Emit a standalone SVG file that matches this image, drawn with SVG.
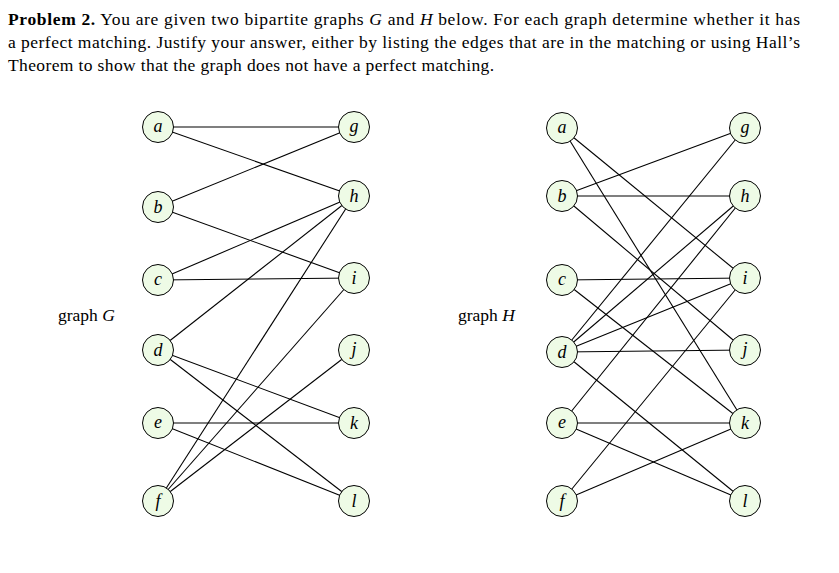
<svg xmlns="http://www.w3.org/2000/svg" width="839" height="573" viewBox="0 0 839 573">
<style>
.t{font-family:"Liberation Serif",serif;font-size:17.5px;fill:#000}
.n circle{fill:#eefbe6;stroke:#000;stroke-width:1}
.n text{font-family:"Liberation Serif",serif;font-style:italic;font-size:18px;text-anchor:middle}
.e line{stroke:#000;stroke-width:1.1}
</style>
<rect width="839" height="573" fill="#fff"/>
<text class="t" x="8" y="25" textLength="792" lengthAdjust="spacing"><tspan font-weight="bold">Problem 2.</tspan> You are given two bipartite graphs <tspan font-style="italic">G</tspan> and <tspan font-style="italic">H</tspan> below. For each graph determine whether it has</text>
<text class="t" x="8" y="48" textLength="792" lengthAdjust="spacing">a perfect matching. Justify your answer, either by listing the edges that are in the matching or using Hall’s</text>
<text class="t" x="8" y="71" textLength="486" lengthAdjust="spacing">Theorem to show that the graph does not have a perfect matching.</text>
<text class="t" x="58" y="321" font-size="19">graph <tspan font-style="italic">G</tspan></text>
<text class="t" x="458" y="321" font-size="19">graph <tspan font-style="italic">H</tspan></text>
<g class="e" id="edgesG">
<line x1="158" y1="127" x2="354" y2="127"/><line x1="158" y1="127" x2="354" y2="196"/>
<line x1="158" y1="207" x2="354" y2="127"/><line x1="158" y1="207" x2="354" y2="278"/>
<line x1="158" y1="280" x2="354" y2="196"/><line x1="158" y1="280" x2="354" y2="278"/>
<line x1="158" y1="350" x2="354" y2="196"/><line x1="158" y1="350" x2="354" y2="423"/><line x1="158" y1="350" x2="354" y2="501"/>
<line x1="158" y1="423" x2="354" y2="423"/><line x1="158" y1="423" x2="354" y2="501"/>
<line x1="158" y1="501" x2="354" y2="196"/><line x1="158" y1="501" x2="354" y2="278"/><line x1="158" y1="501" x2="354" y2="350"/>
</g>
<g class="e" id="edgesH">
<line x1="562" y1="128" x2="745" y2="278"/><line x1="562" y1="128" x2="745" y2="423"/>
<line x1="562" y1="196" x2="745" y2="128"/><line x1="562" y1="196" x2="745" y2="196"/><line x1="562" y1="196" x2="745" y2="350"/>
<line x1="562" y1="280" x2="745" y2="278"/><line x1="562" y1="280" x2="745" y2="423"/>
<line x1="562" y1="352" x2="745" y2="128"/><line x1="562" y1="352" x2="745" y2="196"/><line x1="562" y1="352" x2="745" y2="278"/><line x1="562" y1="352" x2="745" y2="350"/><line x1="562" y1="352" x2="745" y2="501"/>
<line x1="562" y1="423" x2="745" y2="196"/><line x1="562" y1="423" x2="745" y2="423"/><line x1="562" y1="423" x2="745" y2="501"/>
<line x1="562" y1="501" x2="745" y2="278"/><line x1="562" y1="501" x2="745" y2="423"/>
</g>
<g class="n" id="G-a"><circle cx="158" cy="127" r="15.5"/><text x="158" y="132">a</text></g>
<g class="n" id="G-b"><circle cx="158" cy="207" r="15.5"/><text x="158" y="213">b</text></g>
<g class="n" id="G-c"><circle cx="158" cy="280" r="15.5"/><text x="158" y="285">c</text></g>
<g class="n" id="G-d"><circle cx="158" cy="350" r="15.5"/><text x="158" y="356">d</text></g>
<g class="n" id="G-e"><circle cx="158" cy="423" r="15.5"/><text x="158" y="428">e</text></g>
<g class="n" id="G-f"><circle cx="158" cy="501" r="15.5"/><text x="158" y="507">f</text></g>
<g class="n" id="G-g"><circle cx="354" cy="127" r="15.5"/><text x="354" y="132">g</text></g>
<g class="n" id="G-h"><circle cx="354" cy="196" r="15.5"/><text x="354" y="202">h</text></g>
<g class="n" id="G-i"><circle cx="354" cy="278" r="15.5"/><text x="354" y="284">i</text></g>
<g class="n" id="G-j"><circle cx="354" cy="350" r="15.5"/><text x="354" y="355">j</text></g>
<g class="n" id="G-k"><circle cx="354" cy="423" r="15.5"/><text x="354" y="429">k</text></g>
<g class="n" id="G-l"><circle cx="354" cy="501" r="15.5"/><text x="354" y="507">l</text></g>
<g class="n" id="H-a"><circle cx="562" cy="128" r="15.5"/><text x="562" y="133">a</text></g>
<g class="n" id="H-b"><circle cx="562" cy="196" r="15.5"/><text x="562" y="202">b</text></g>
<g class="n" id="H-c"><circle cx="562" cy="280" r="15.5"/><text x="562" y="285">c</text></g>
<g class="n" id="H-d"><circle cx="562" cy="352" r="15.5"/><text x="562" y="358">d</text></g>
<g class="n" id="H-e"><circle cx="562" cy="423" r="15.5"/><text x="562" y="428">e</text></g>
<g class="n" id="H-f"><circle cx="562" cy="501" r="15.5"/><text x="562" y="507">f</text></g>
<g class="n" id="H-g"><circle cx="745" cy="128" r="15.5"/><text x="745" y="133">g</text></g>
<g class="n" id="H-h"><circle cx="745" cy="196" r="15.5"/><text x="745" y="202">h</text></g>
<g class="n" id="H-i"><circle cx="745" cy="278" r="15.5"/><text x="745" y="284">i</text></g>
<g class="n" id="H-j"><circle cx="745" cy="350" r="15.5"/><text x="745" y="355">j</text></g>
<g class="n" id="H-k"><circle cx="745" cy="423" r="15.5"/><text x="745" y="429">k</text></g>
<g class="n" id="H-l"><circle cx="745" cy="501" r="15.5"/><text x="745" y="507">l</text></g>
</svg>
